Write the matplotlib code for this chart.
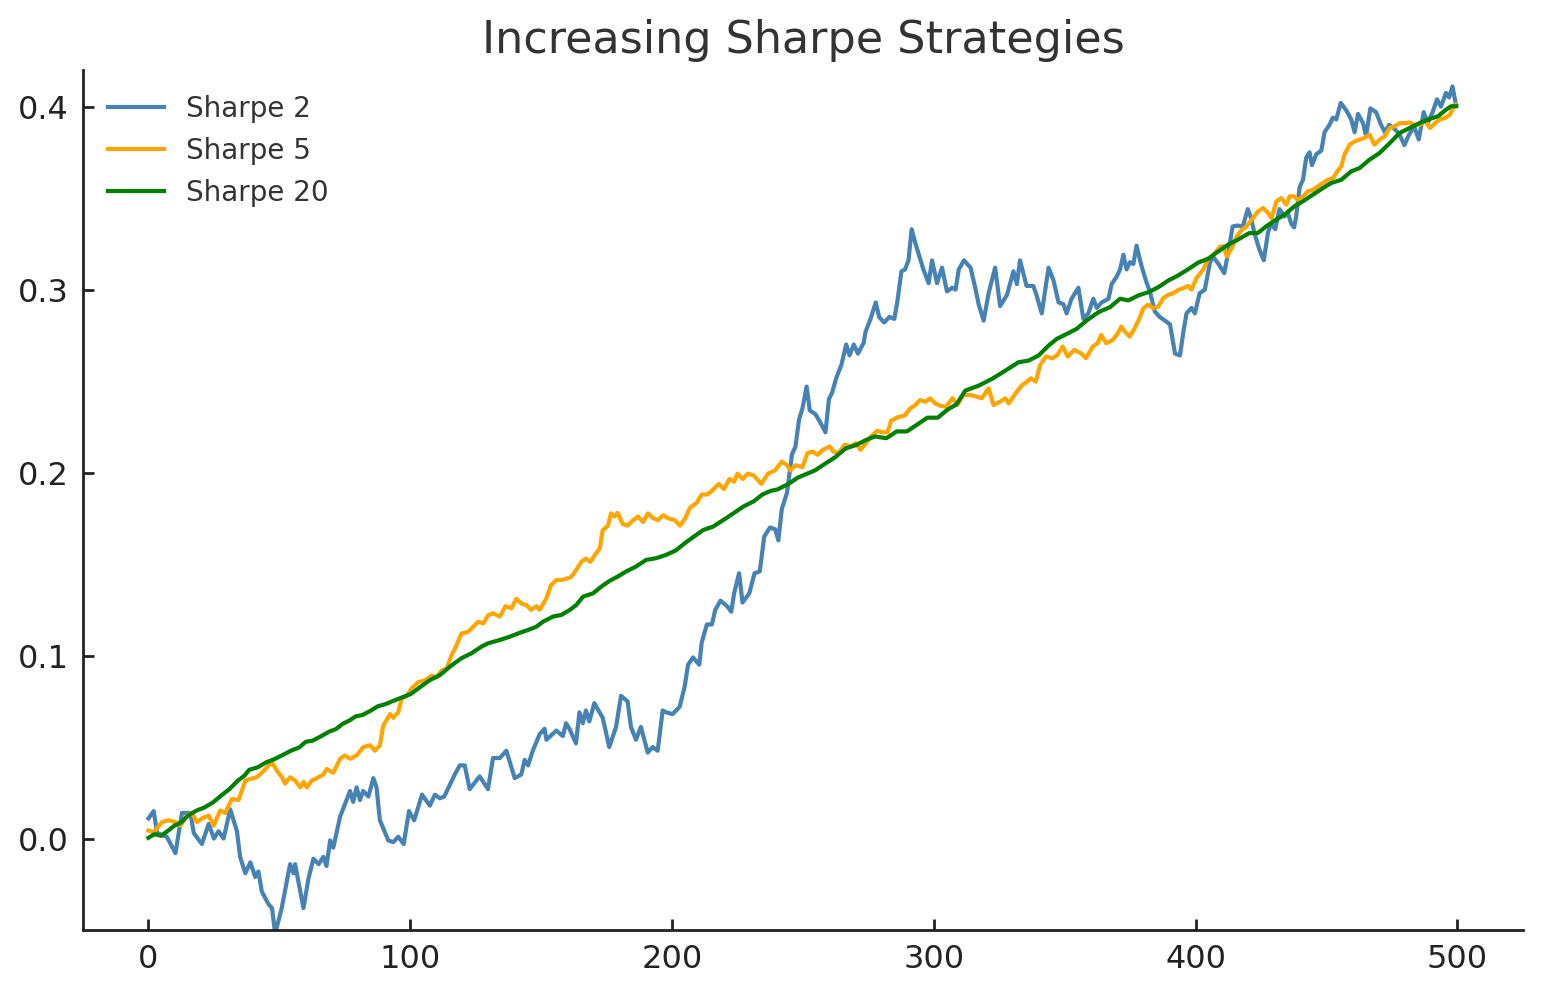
import matplotlib.pyplot as plt

# Sharpe 2
s2_x = [0, 2, 3.3, 7, 10.3, 12.8, 16, 17.3, 20.4, 23, 25, 26.8, 28.7, 31.2, 33.8, 35, 37, 38.9, 40.8, 42,
        43.3, 45.9, 47.2, 48.4, 50.9, 54.1, 55.4, 56, 59.2, 61.1, 63, 65, 66.8, 68, 69.4, 70.6, 73.2, 77, 78.2, 79.5,
        80.8, 82, 84, 85.9, 87.1, 88.4, 91.6, 93.5, 95.4, 97.5, 99.5, 101.5, 104.5, 107.5, 109.4, 111.3, 113, 117, 118.9, 120.8,
        122.7, 126.5, 129.7, 131.6, 134.2, 136.7, 139.9, 142.4, 143.7, 145, 146.8, 149.4, 151.3, 152, 155.8, 158.3, 159.5, 160.8, 163.3, 164.6,
        165.9, 167.1, 168.4, 170.3, 173.5, 176, 178.6, 180.5, 183, 184.3, 186.2, 188.1, 190.7, 192.6, 194.5, 196.4, 197.7, 200.2, 202.9, 204.8,
        206.1, 208, 210.4, 211.3, 213.3, 215.2, 216.5, 218.5, 221, 222.6, 223.7, 225.6, 226.9, 229.5, 231.5, 233.5, 235.2, 237.4, 239.4, 240.6,
        241.9, 243.9, 245.8, 247.1, 248.5, 249.8, 251.4, 252.6, 254.7, 256.4, 258.6, 259.9, 261.2, 262.8, 264.7, 266.5, 267.8, 269.4, 271, 273.2,
        273.9, 275.8, 277.8, 279.1, 281, 283, 284.9, 286, 287.6, 289, 290.3, 291.5, 293, 294.5, 296, 298, 299.3, 301.2, 303.1, 305,
        307, 308.3, 309.5, 311.5, 314, 315.8, 317.1, 319, 320.9, 323.4, 325.3, 327.9, 330.4, 331.7, 332.9, 335.4, 338, 339.2, 341.2, 343.8,
        345.7, 347.6, 349.5, 350.7, 352.6, 355.2, 357.1, 359, 360.9, 362.2, 364.1, 366.7, 367.9, 369.8, 371.1, 372.4, 373.6, 374.9, 376.2, 377.4,
        379.3, 381.2, 382.5, 384.4, 386.3, 388.3, 390.2, 392.1, 394, 395.2, 396.5, 398.4, 399.7, 401.5, 403.5, 405.4, 406.6, 408.5, 410.9, 412.9,
        414.1, 416, 418, 419.9, 421.2, 422.4, 424.3, 426, 427.6, 428.8, 430.4, 432, 433.9, 435.2, 436.5, 437.6, 438.4, 439.7, 441, 442.2,
        443.5, 444.4, 446.1, 448, 449.2, 451.1, 452.4, 453.7, 455.4, 457.5, 459.4, 460.7, 462, 463.9, 465.1, 466.7, 468.9, 470.8, 472.3, 473.9,
        475.8, 477.8, 479.7, 481.6, 483.5, 485.2, 487.1, 488.6, 490.5, 492.2, 493.7, 495.6, 496.8, 498.1, 499.4]
s2_y = [0.011, 0.015, 0.003, 0.001, -0.008, 0.014, 0.014, 0.003, -0.003, 0.008, 0.0, 0.004, 0.0, 0.016, 0.004, -0.010, -0.019, -0.013, -0.021, -0.018,
        -0.029, -0.036, -0.038, -0.052, -0.038, -0.014, -0.019, -0.014, -0.038, -0.022, -0.011, -0.014, -0.010, -0.015, -0.001, -0.005, 0.012, 0.026, 0.020, 0.028,
        0.021, 0.026, 0.023, 0.033, 0.028, 0.010, -0.001, -0.002, 0.001, -0.003, 0.015, 0.010, 0.024, 0.018, 0.024, 0.022, 0.023, 0.035, 0.040, 0.040,
        0.027, 0.034, 0.027, 0.044, 0.044, 0.048, 0.033, 0.035, 0.043, 0.040, 0.048, 0.057, 0.060, 0.054, 0.059, 0.056, 0.063, 0.060, 0.052, 0.069,
        0.063, 0.070, 0.064, 0.074, 0.066, 0.050, 0.061, 0.078, 0.075, 0.061, 0.054, 0.061, 0.047, 0.050, 0.048, 0.070, 0.069, 0.068, 0.072, 0.083,
        0.095, 0.099, 0.095, 0.107, 0.117, 0.117, 0.125, 0.130, 0.127, 0.124, 0.134, 0.145, 0.129, 0.134, 0.145, 0.146, 0.165, 0.170, 0.169, 0.163,
        0.180, 0.189, 0.210, 0.214, 0.229, 0.235, 0.247, 0.234, 0.232, 0.228, 0.222, 0.240, 0.244, 0.252, 0.259, 0.270, 0.264, 0.270, 0.265, 0.271,
        0.277, 0.284, 0.293, 0.285, 0.282, 0.285, 0.284, 0.293, 0.310, 0.311, 0.316, 0.333, 0.325, 0.318, 0.311, 0.3035, 0.316, 0.3035, 0.312, 0.299,
        0.301, 0.300, 0.311, 0.316, 0.312, 0.301, 0.292, 0.283, 0.298, 0.312, 0.291, 0.297, 0.310, 0.303, 0.316, 0.302, 0.302, 0.297, 0.287, 0.312,
        0.305, 0.293, 0.292, 0.287, 0.295, 0.301, 0.284, 0.287, 0.295, 0.290, 0.293, 0.295, 0.303, 0.307, 0.311, 0.319, 0.311, 0.315, 0.314, 0.324,
        0.313, 0.304, 0.299, 0.288, 0.285, 0.283, 0.281, 0.265, 0.264, 0.276, 0.287, 0.290, 0.287, 0.298, 0.300, 0.3145, 0.318, 0.3145, 0.309, 0.324,
        0.3345, 0.335, 0.3345, 0.344, 0.339, 0.331, 0.322, 0.316, 0.331, 0.336, 0.333, 0.344, 0.340, 0.342, 0.336, 0.334, 0.340, 0.356, 0.360, 0.372,
        0.375, 0.368, 0.374, 0.376, 0.386, 0.390, 0.394, 0.393, 0.402, 0.398, 0.393, 0.386, 0.396, 0.391, 0.384, 0.399, 0.397, 0.390, 0.386, 0.390,
        0.388, 0.385, 0.379, 0.385, 0.389, 0.382, 0.397, 0.391, 0.397, 0.404, 0.400, 0.4075, 0.405, 0.411, 0.401]

# Sharpe 5
s5_x = [0, 2, 5.2, 7.7, 10.3, 12.2, 14.7, 16.6, 18.5, 20.4, 23, 24.9, 27.4, 29.3, 31.9, 34.4, 37, 38.9, 41.4, 43.3,
        45.3, 47.1, 49.1, 51, 52.2, 54.1, 56, 58, 59.2, 60.5, 62.4, 65, 66.8, 68.1, 70.6, 73.2, 75, 77, 79.5, 82.1,
        84.6, 86.5, 88.4, 89.7, 92.3, 93.5, 95.4, 96.7, 98.6, 100.5, 103, 105.6, 108.1, 110, 112, 113.9, 115.7, 117.7, 119.5, 122.1,
        124, 126, 127.9, 129.7, 131.6, 134.2, 136.4, 138.6, 140.5, 142.4, 144.3, 146.2, 148.2, 149.4, 151.9, 153.8, 155.8, 157.7, 159.6, 161.5,
        163.4, 165.3, 167.2, 168.8, 171, 172.4, 173.5, 175.5, 176.7, 178, 179.2, 181.1, 183, 185, 187, 188.9, 190.8, 192.8, 194.7, 196.6,
        198.5, 201, 203, 205, 206.8, 209.4, 211.3, 213.3, 215.2, 217.8, 219.8, 221.9, 223.7, 225, 227, 228.9, 231.1, 234.1, 236.6, 239.3,
        241.9, 243.9, 245.2, 247.2, 249.8, 251.7, 253.7, 255.6, 257.6, 260.2, 261.6, 263.5, 266, 268, 270.2, 272, 274, 276, 278.4, 280.4,
        282.3, 283.7, 286.3, 288.9, 290.9, 292.8, 294.7, 296.7, 298.6, 300.6, 302.5, 304.6, 307.1, 309, 311.3, 313.9, 316.4, 318.3, 320.9, 322.8,
        325.4, 327.3, 328.6, 331.2, 333.7, 335.6, 337, 338.9, 340.6, 342.8, 345.3, 347.2, 349.2, 351.1, 353.6, 356.2, 358.1, 360.7, 362.6, 363.9,
        365.8, 368.4, 370.3, 371.6, 372.9, 374.8, 376.7, 378.6, 380, 381.9, 383.8, 385.7, 387.6, 389.5, 391.4, 393.4, 395.3, 397.2, 398.4, 400.3,
        402.9, 404.9, 406.8, 409.4, 410.6, 411.9, 413.8, 415.7, 417.6, 419, 421.4, 423.8, 425.8, 427.7, 429, 430.8, 432.7, 434.6, 435.9, 437.6,
        439, 441, 442.9, 444.8, 446.7, 448.6, 450.5, 452.5, 454.1, 455.6, 456.8, 458.8, 460.7, 462.6, 464.5, 466.4, 468.3, 470.3, 472.2, 474.1,
        476, 478, 479.9, 481.8, 483.7, 485.6, 487.6, 489.5, 491.4, 493.3, 495.2, 497.1, 498.4, 499.4]
s5_y = [0.0044, 0.0035, 0.009, 0.010, 0.009, 0.007, 0.0126, 0.014, 0.009, 0.011, 0.0126, 0.007, 0.0153, 0.014, 0.0217, 0.021, 0.0317, 0.0326, 0.0335, 0.036,
        0.039, 0.0418, 0.037, 0.0335, 0.030, 0.0335, 0.0317, 0.028, 0.031, 0.028, 0.0317, 0.0335, 0.035, 0.038, 0.036, 0.0436, 0.0454, 0.0436, 0.0454, 0.050,
        0.051, 0.048, 0.051, 0.0618, 0.068, 0.066, 0.069, 0.0764, 0.078, 0.082, 0.0855, 0.0864, 0.089, 0.088, 0.0919, 0.0928, 0.100, 0.1057, 0.112, 0.113,
        0.1157, 0.1185, 0.1176, 0.122, 0.1231, 0.1213, 0.127, 0.1258, 0.131, 0.1285, 0.1276, 0.125, 0.127, 0.125, 0.131, 0.1386, 0.1413, 0.1413, 0.142, 0.143,
        0.1468, 0.1512, 0.153, 0.1512, 0.156, 0.1586, 0.1685, 0.171, 0.1777, 0.176, 0.178, 0.172, 0.171, 0.1738, 0.176, 0.173, 0.1777, 0.175, 0.174, 0.1767,
        0.175, 0.174, 0.171, 0.175, 0.1807, 0.1835, 0.188, 0.188, 0.190, 0.1938, 0.191, 0.1965, 0.195, 0.1994, 0.1965, 0.1994, 0.1985, 0.1938, 0.1994, 0.2012,
        0.206, 0.204, 0.2012, 0.204, 0.203, 0.2106, 0.2115, 0.2097, 0.2124, 0.2143, 0.2115, 0.2106, 0.2153, 0.2143, 0.216, 0.2124, 0.216, 0.2198, 0.2228, 0.222,
        0.222, 0.2284, 0.2303, 0.2312, 0.235, 0.2368, 0.2396, 0.2387, 0.2406, 0.2377, 0.2365, 0.236, 0.2406, 0.237, 0.2424, 0.2424, 0.2415, 0.2406, 0.246, 0.2369,
        0.2388, 0.2406, 0.2378, 0.2433, 0.2478, 0.2497, 0.2515, 0.2497, 0.2588, 0.2634, 0.2625, 0.2643, 0.2689, 0.2634, 0.267, 0.2652, 0.2625, 0.2689, 0.2707, 0.2752,
        0.2707, 0.2725, 0.2762, 0.2798, 0.2771, 0.2743, 0.2789, 0.2844, 0.2898, 0.2917, 0.2898, 0.2907, 0.2953, 0.2971, 0.298, 0.2998, 0.3008, 0.302, 0.300, 0.3063,
        0.311, 0.3172, 0.319, 0.3236, 0.3236, 0.318, 0.3227, 0.3291, 0.3327, 0.334, 0.3382, 0.3427, 0.3446, 0.3418, 0.339, 0.3482, 0.350, 0.3464, 0.351, 0.351,
        0.349, 0.351, 0.3537, 0.3546, 0.3564, 0.3582, 0.360, 0.361, 0.3646, 0.3673, 0.3737, 0.3792, 0.381, 0.382, 0.3829, 0.3847, 0.3792, 0.382, 0.3838, 0.3883,
        0.3893, 0.391, 0.391, 0.3913, 0.390, 0.390, 0.392, 0.3883, 0.391, 0.393, 0.3938, 0.3956, 0.3993, 0.401]

# Sharpe 20
s20_x = [0, 2.3, 4.8, 7.4, 9.9, 12.5, 15, 18.2, 21.4, 24.6, 27.7, 30.9, 34.1, 36.6, 38.5, 41.7, 44.9, 48.1, 51.2, 54.4,
         57.6, 60.1, 62.7, 65.9, 69, 71.6, 74.1, 76.6, 79.2, 81.7, 84.9, 87.5, 90.6, 93.8, 97, 100.2, 103.5, 107.5, 111.3, 115.1,
         119.5, 123.3, 127.1, 129.7, 134.2, 138, 141.2, 145, 148.2, 150.7, 154.5, 157.7, 160.9, 163.4, 166, 169.8, 173, 176.1, 179.3, 182.5,
         186.3, 190.1, 193.9, 197.7, 201.5, 204.5, 208, 211.9, 215.7, 219.5, 223.5, 227.3, 231.2, 234.5, 237.7, 240.3, 244.2, 248.1, 251.4, 254.6,
         258.5, 262.4, 266.3, 270.2, 274.1, 277.4, 281.9, 285.8, 289.7, 293.6, 297.5, 301.5, 305.3, 308.6, 312, 317.1, 322.2, 327.3, 332.3, 336.2,
         340, 343.8, 347, 350.8, 354.6, 358.4, 362.9, 367.3, 371.1, 374.3, 378.1, 382, 385.8, 389.6, 393.4, 397.2, 401, 404.9, 408, 412.3,
         416, 420.5, 423.7, 426.9, 430.7, 433.9, 437.7, 440.9, 444.8, 448.6, 451.7, 455.6, 459.4, 462.6, 466.4, 470.2, 474.1, 477.9, 481.7, 485.5,
         488.7, 492.5, 495.7, 497.6, 499.5]
s20_y = [0.0004, 0.0024, 0.0015, 0.0042, 0.007, 0.0088, 0.0124, 0.0152, 0.017, 0.0197, 0.0234, 0.027, 0.0316, 0.0343, 0.0376, 0.0389, 0.0416, 0.0434, 0.0456, 0.048,
         0.0498, 0.0529, 0.0535, 0.0559, 0.0584, 0.0598, 0.0626, 0.0644, 0.0668, 0.0675, 0.0699, 0.0722, 0.0735, 0.0754, 0.0772, 0.079, 0.0825, 0.0866, 0.0893, 0.0939,
         0.0985, 0.1012, 0.1048, 0.1067, 0.1085, 0.1103, 0.1121, 0.114, 0.1158, 0.1185, 0.1213, 0.1222, 0.1249, 0.1276, 0.1322, 0.134, 0.1377, 0.1408, 0.1432, 0.146,
         0.1487, 0.1523, 0.1532, 0.155, 0.1575, 0.161, 0.1647, 0.1686, 0.1705, 0.174, 0.1778, 0.1815, 0.1843, 0.188, 0.19, 0.1908, 0.1936, 0.1973, 0.1993, 0.2012,
         0.2049, 0.2085, 0.2132, 0.215, 0.2178, 0.2197, 0.2188, 0.2225, 0.2225, 0.2262, 0.23, 0.23, 0.2345, 0.2372, 0.2448, 0.2475, 0.2512, 0.2557, 0.2603, 0.2612,
         0.264, 0.2694, 0.2731, 0.2758, 0.2786, 0.2832, 0.2877, 0.2904, 0.295, 0.2941, 0.2968, 0.2986, 0.3014, 0.305, 0.3078, 0.3112, 0.3148, 0.3169, 0.3202, 0.3245,
         0.3272, 0.3309, 0.3309, 0.3345, 0.3382, 0.3409, 0.3455, 0.3482, 0.3519, 0.3555, 0.3582, 0.36, 0.3646, 0.3664, 0.371, 0.3746, 0.38, 0.3856, 0.3883, 0.391,
         0.3929, 0.3947, 0.3984, 0.4002, 0.4002]

labels = ['Sharpe 2', 'Sharpe 5', 'Sharpe 20']

fig = plt.figure(figsize=(7.715, 4.965), dpi=200)
ax = fig.add_axes([0.0538, 0.0634, 0.9332, 0.8661])

ax.plot(s2_x, s2_y, color='steelblue', lw=1.5, label=labels[0])
ax.plot(s5_x, s5_y, color='orange', lw=1.5, label=labels[1])
ax.plot(s20_x, s20_y, color='green', lw=1.5, label=labels[2])

ax.set_xlim(-25, 525)
ax.set_ylim(-0.05, 0.42)
ax.set_xticks([0, 100, 200, 300, 400, 500])
ax.set_yticks([0.0, 0.1, 0.2, 0.3, 0.4])
ax.spines['top'].set_visible(False)
ax.spines['right'].set_visible(False)
for s in ['left', 'bottom']:
    ax.spines[s].set_color('#222222')
    ax.spines[s].set_linewidth(1.0)
ax.tick_params(direction='in', length=4, width=1, labelsize=11.5, colors='#222222', pad=5)

ax.set_title('Increasing Sharpe Strategies', fontsize=16, color='#333333', pad=6)
leg = ax.legend(loc='upper left', frameon=False, fontsize=10, labelcolor='#333333',
                bbox_to_anchor=(0.0, 1.0))

fig.savefig('out.png', dpi=200)
